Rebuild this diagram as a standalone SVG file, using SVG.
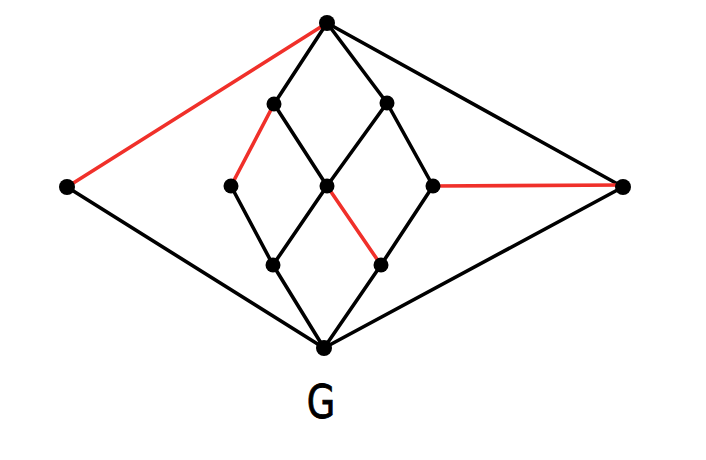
<svg xmlns="http://www.w3.org/2000/svg" width="706" height="460" viewBox="0 0 706 460">
<style>
.e{stroke:#000;stroke-width:3.6;stroke-linecap:round;fill:none}
.r{stroke:#f0302a;stroke-width:3.6;stroke-linecap:round;fill:none}
.n{fill:#000}
.lbl{font-family:"DejaVu Sans",sans-serif;font-size:46px;fill:#000;stroke:#000;stroke-width:0.8}
</style>
<rect width="706" height="460" fill="#fff"/>
<g id="connectors">
<line class="r" x1="327" y1="23" x2="67" y2="187"/>
<line class="e" x1="327" y1="23" x2="623" y2="187"/>
<line class="e" x1="67" y1="187" x2="324" y2="348"/>
<line class="e" x1="623" y1="187" x2="324" y2="348"/>
<line class="e" x1="327" y1="23" x2="274" y2="104"/>
<line class="e" x1="327" y1="23" x2="387" y2="103"/>
<line class="r" x1="274" y1="104" x2="231" y2="186"/>
<line class="e" x1="274" y1="104" x2="327" y2="186"/>
<line class="e" x1="387" y1="103" x2="327" y2="186"/>
<line class="e" x1="387" y1="103" x2="433" y2="186"/>
<line class="e" x1="231" y1="186" x2="273" y2="265"/>
<line class="e" x1="327" y1="186" x2="273" y2="265"/>
<line class="r" x1="327" y1="186" x2="381" y2="265"/>
<line class="e" x1="433" y1="186" x2="381" y2="265"/>
<line class="r" x1="433" y1="186" x2="623" y2="185"/>
<line class="e" x1="273" y1="265" x2="324" y2="348"/>
<line class="e" x1="381" y1="265" x2="324" y2="348"/>
</g>
<g id="n-top"><circle class="n" cx="327" cy="23" r="8"/></g>
<g id="n-left"><circle class="n" cx="67" cy="187" r="8"/></g>
<g id="n-right"><circle class="n" cx="623" cy="187" r="8"/></g>
<g id="n-bottom"><circle class="n" cx="324" cy="348" r="8"/></g>
<g id="n-a"><circle class="n" cx="274" cy="104" r="7.5"/></g>
<g id="n-b"><circle class="n" cx="387" cy="103" r="7.5"/></g>
<g id="n-c"><circle class="n" cx="231" cy="186" r="7.5"/></g>
<g id="n-d"><circle class="n" cx="327" cy="186" r="7.5"/></g>
<g id="n-e"><circle class="n" cx="433" cy="186" r="7.5"/></g>
<g id="n-f"><circle class="n" cx="273" cy="265" r="7.5"/></g>
<g id="n-g"><circle class="n" cx="381" cy="265" r="7.5"/></g>
<text class="lbl" x="321" y="418" text-anchor="middle" transform="translate(321 0) scale(0.8 1) translate(-321 0)">G</text>
</svg>
